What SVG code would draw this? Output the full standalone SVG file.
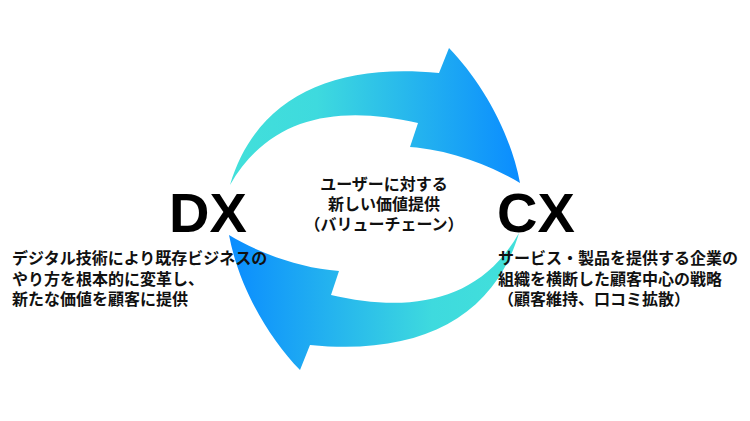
<svg xmlns="http://www.w3.org/2000/svg" width="750" height="421" viewBox="0 0 750 421">
<defs>
<linearGradient id="g" x1="0" y1="0" x2="1" y2="0">
<stop offset="0" stop-color="#42E0DA"/>
<stop offset="0.3" stop-color="#3EDADE"/>
<stop offset="1" stop-color="#0A8CFF"/>
</linearGradient>
<style>
.big{font-family:"Liberation Sans",Arial,sans-serif;font-weight:bold;font-size:56px;fill:#000}
.jp{font-family:"Noto Sans CJK JP","Noto Sans",sans-serif;font-weight:bold;font-size:16px;fill:#111}
.arrow{fill:url(#g)}
</style>
</defs>
<rect width="750" height="421" fill="#fff"/>
<g id="connectors">
<path id="arrow-top" class="arrow" d="M230,185 C255,100 330,62 439,73 L449,48 C480,80 510,130 520,183 C490,165 450,150 410,147 L418,123 C340,105 270,115 230,185 Z"/>
<path id="arrow-bottom" class="arrow" transform="rotate(180 374.5 209)" d="M230,185 C255,100 330,62 439,73 L449,48 C480,80 510,130 520,183 C490,165 450,150 410,147 L418,123 C340,105 270,115 230,185 Z"/>
</g>
<g id="node-dx">
<text class="big" x="169" y="232">DX</text>
<text class="jp" x="12"><tspan x="12" y="264">デジタル技術により既存ビジネスの</tspan><tspan x="12" y="284.5">やり方を根本的に変革し、</tspan><tspan x="12" y="305">新たな価値を顧客に提供</tspan></text>
</g>
<g id="node-cx">
<text class="big" x="497" y="232">CX</text>
<text class="jp"><tspan x="498" y="264">サービス・製品を提供する企業の</tspan><tspan x="498" y="284.5">組織を横断した顧客中心の戦略</tspan><tspan x="498" y="305">（顧客維持、口コミ拡散）</tspan></text>
</g>
<g id="node-center">
<text class="jp" text-anchor="middle"><tspan x="384" y="190">ユーザーに対する</tspan><tspan x="384" y="210">新しい価値提供</tspan><tspan x="384" y="230">（バリューチェーン）</tspan></text>
</g>
</svg>
